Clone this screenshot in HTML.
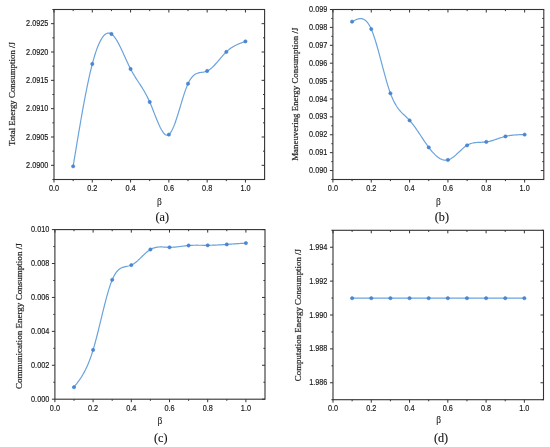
<!DOCTYPE html>
<html><head><meta charset="utf-8"><title>Energy consumption vs beta</title>
<style>html,body{margin:0;padding:0;background:#fff;width:550px;height:447px;overflow:hidden}svg{display:block;filter:blur(0.3px)}</style>
</head><body>
<svg width="550" height="447" viewBox="0 0 550 447"><g stroke="#333" stroke-width="1"><line x1="54.00" y1="179.50" x2="54.00" y2="182.50"/><line x1="54.00" y1="9.50" x2="54.00" y2="12.50"/><line x1="73.15" y1="179.50" x2="73.15" y2="181.10"/><line x1="73.15" y1="9.50" x2="73.15" y2="11.10"/><line x1="92.29" y1="179.50" x2="92.29" y2="182.50"/><line x1="92.29" y1="9.50" x2="92.29" y2="12.50"/><line x1="111.44" y1="179.50" x2="111.44" y2="181.10"/><line x1="111.44" y1="9.50" x2="111.44" y2="11.10"/><line x1="130.58" y1="179.50" x2="130.58" y2="182.50"/><line x1="130.58" y1="9.50" x2="130.58" y2="12.50"/><line x1="149.73" y1="179.50" x2="149.73" y2="181.10"/><line x1="149.73" y1="9.50" x2="149.73" y2="11.10"/><line x1="168.87" y1="179.50" x2="168.87" y2="182.50"/><line x1="168.87" y1="9.50" x2="168.87" y2="12.50"/><line x1="188.02" y1="179.50" x2="188.02" y2="181.10"/><line x1="188.02" y1="9.50" x2="188.02" y2="11.10"/><line x1="207.16" y1="179.50" x2="207.16" y2="182.50"/><line x1="207.16" y1="9.50" x2="207.16" y2="12.50"/><line x1="226.31" y1="179.50" x2="226.31" y2="181.10"/><line x1="226.31" y1="9.50" x2="226.31" y2="11.10"/><line x1="245.45" y1="179.50" x2="245.45" y2="182.50"/><line x1="245.45" y1="9.50" x2="245.45" y2="12.50"/><line x1="54.00" y1="179.50" x2="52.40" y2="179.50"/><line x1="264.60" y1="179.50" x2="263.00" y2="179.50"/><line x1="54.00" y1="165.33" x2="51.00" y2="165.33"/><line x1="264.60" y1="165.33" x2="261.60" y2="165.33"/><line x1="54.00" y1="151.17" x2="52.40" y2="151.17"/><line x1="264.60" y1="151.17" x2="263.00" y2="151.17"/><line x1="54.00" y1="137.00" x2="51.00" y2="137.00"/><line x1="264.60" y1="137.00" x2="261.60" y2="137.00"/><line x1="54.00" y1="122.83" x2="52.40" y2="122.83"/><line x1="264.60" y1="122.83" x2="263.00" y2="122.83"/><line x1="54.00" y1="108.67" x2="51.00" y2="108.67"/><line x1="264.60" y1="108.67" x2="261.60" y2="108.67"/><line x1="54.00" y1="94.50" x2="52.40" y2="94.50"/><line x1="264.60" y1="94.50" x2="263.00" y2="94.50"/><line x1="54.00" y1="80.33" x2="51.00" y2="80.33"/><line x1="264.60" y1="80.33" x2="261.60" y2="80.33"/><line x1="54.00" y1="66.17" x2="52.40" y2="66.17"/><line x1="264.60" y1="66.17" x2="263.00" y2="66.17"/><line x1="54.00" y1="52.00" x2="51.00" y2="52.00"/><line x1="264.60" y1="52.00" x2="261.60" y2="52.00"/><line x1="54.00" y1="37.83" x2="52.40" y2="37.83"/><line x1="264.60" y1="37.83" x2="263.00" y2="37.83"/><line x1="54.00" y1="23.67" x2="51.00" y2="23.67"/><line x1="264.60" y1="23.67" x2="261.60" y2="23.67"/><line x1="54.00" y1="9.50" x2="52.40" y2="9.50"/><line x1="264.60" y1="9.50" x2="263.00" y2="9.50"/></g>
<rect x="54.00" y="9.50" width="210.60" height="170.00" fill="none" stroke="#333" stroke-width="1.1"/>
<g font-family="Liberation Sans, Arial, sans-serif" font-size="8.5" fill="#1a1a1a" stroke="#1a1a1a" stroke-width="0.18"><text transform="translate(54.00,190.80) scale(0.86,1)" text-anchor="middle">0.0</text><text transform="translate(92.29,190.80) scale(0.86,1)" text-anchor="middle">0.2</text><text transform="translate(130.58,190.80) scale(0.86,1)" text-anchor="middle">0.4</text><text transform="translate(168.87,190.80) scale(0.86,1)" text-anchor="middle">0.6</text><text transform="translate(207.16,190.80) scale(0.86,1)" text-anchor="middle">0.8</text><text transform="translate(245.45,190.80) scale(0.86,1)" text-anchor="middle">1.0</text><text transform="translate(48.40,167.93) scale(0.86,1)" text-anchor="end">2.0900</text><text transform="translate(48.40,139.60) scale(0.86,1)" text-anchor="end">2.0905</text><text transform="translate(48.40,111.27) scale(0.86,1)" text-anchor="end">2.0910</text><text transform="translate(48.40,82.93) scale(0.86,1)" text-anchor="end">2.0915</text><text transform="translate(48.40,54.60) scale(0.86,1)" text-anchor="end">2.0920</text><text transform="translate(48.40,26.27) scale(0.86,1)" text-anchor="end">2.0925</text></g>
<path d="M73.15,166.30 L74.10,160.46 L75.06,154.63 L76.02,148.82 L76.97,143.05 L77.93,137.32 L78.89,131.64 L79.85,126.03 L80.80,120.49 L81.76,115.05 L82.72,109.70 L83.68,104.46 L84.63,99.34 L85.59,94.35 L86.55,89.50 L87.50,84.80 L88.46,80.27 L89.42,75.92 L90.38,71.74 L91.33,67.77 L92.29,64.00 L93.25,60.45 L94.21,57.11 L95.16,54.00 L96.12,51.10 L97.08,48.41 L98.03,45.95 L98.99,43.70 L99.95,41.66 L100.91,39.85 L101.86,38.24 L102.82,36.86 L103.78,35.68 L104.74,34.73 L105.69,33.98 L106.65,33.45 L107.61,33.14 L108.56,33.03 L109.52,33.14 L110.48,33.46 L111.44,34.00 L112.39,34.74 L113.35,35.69 L114.31,36.81 L115.27,38.10 L116.22,39.54 L117.18,41.12 L118.14,42.82 L119.09,44.62 L120.05,46.52 L121.01,48.49 L121.97,50.52 L122.92,52.59 L123.88,54.70 L124.84,56.82 L125.80,58.94 L126.75,61.04 L127.71,63.12 L128.67,65.14 L129.62,67.11 L130.58,69.00 L131.54,70.80 L132.50,72.52 L133.45,74.17 L134.41,75.77 L135.37,77.31 L136.33,78.81 L137.28,80.29 L138.24,81.76 L139.20,83.21 L140.15,84.68 L141.11,86.16 L142.07,87.66 L143.03,89.21 L143.98,90.80 L144.94,92.46 L145.90,94.18 L146.86,95.99 L147.81,97.89 L148.77,99.89 L149.73,102.00 L150.68,104.23 L151.64,106.56 L152.60,108.96 L153.56,111.41 L154.51,113.87 L155.47,116.32 L156.43,118.74 L157.39,121.09 L158.34,123.35 L159.30,125.50 L160.26,127.50 L161.21,129.33 L162.17,130.96 L163.13,132.37 L164.09,133.53 L165.04,134.41 L166.00,134.98 L166.96,135.22 L167.92,135.10 L168.87,134.60 L169.83,133.69 L170.79,132.41 L171.74,130.78 L172.70,128.84 L173.66,126.63 L174.62,124.18 L175.57,121.52 L176.53,118.68 L177.49,115.71 L178.45,112.64 L179.40,109.49 L180.36,106.31 L181.32,103.13 L182.27,99.98 L183.23,96.90 L184.19,93.92 L185.15,91.07 L186.10,88.40 L187.06,85.93 L188.02,83.70 L188.98,81.73 L189.93,80.02 L190.89,78.55 L191.85,77.29 L192.80,76.22 L193.76,75.34 L194.72,74.61 L195.68,74.03 L196.63,73.56 L197.59,73.20 L198.55,72.92 L199.51,72.70 L200.46,72.53 L201.42,72.39 L202.38,72.25 L203.33,72.10 L204.29,71.92 L205.25,71.69 L206.21,71.39 L207.16,71.00 L208.12,70.51 L209.08,69.92 L210.04,69.24 L210.99,68.48 L211.95,67.64 L212.91,66.74 L213.86,65.79 L214.82,64.78 L215.78,63.73 L216.74,62.65 L217.69,61.55 L218.65,60.43 L219.61,59.30 L220.57,58.17 L221.52,57.06 L222.48,55.96 L223.44,54.88 L224.39,53.84 L225.35,52.85 L226.31,51.90 L227.32,50.97 L228.32,50.09 L229.33,49.28 L230.34,48.52 L231.35,47.81 L232.36,47.15 L233.36,46.54 L234.37,45.96 L235.38,45.43 L236.39,44.93 L237.39,44.46 L238.40,44.02 L239.41,43.60 L240.42,43.20 L241.42,42.82 L242.43,42.45 L243.44,42.10 L244.45,41.75 L245.45,41.40" fill="none" stroke="#6aa3dc" stroke-width="1.2"/>
<circle cx="73.15" cy="166.30" r="1.65" fill="#4a88d4" stroke="#3b78c6" stroke-width="0.5"/>
<circle cx="92.29" cy="64.00" r="1.65" fill="#4a88d4" stroke="#3b78c6" stroke-width="0.5"/>
<circle cx="111.44" cy="34.00" r="1.65" fill="#4a88d4" stroke="#3b78c6" stroke-width="0.5"/>
<circle cx="130.58" cy="69.00" r="1.65" fill="#4a88d4" stroke="#3b78c6" stroke-width="0.5"/>
<circle cx="149.73" cy="102.00" r="1.65" fill="#4a88d4" stroke="#3b78c6" stroke-width="0.5"/>
<circle cx="168.87" cy="134.60" r="1.65" fill="#4a88d4" stroke="#3b78c6" stroke-width="0.5"/>
<circle cx="188.02" cy="83.70" r="1.65" fill="#4a88d4" stroke="#3b78c6" stroke-width="0.5"/>
<circle cx="207.16" cy="71.00" r="1.65" fill="#4a88d4" stroke="#3b78c6" stroke-width="0.5"/>
<circle cx="226.31" cy="51.90" r="1.65" fill="#4a88d4" stroke="#3b78c6" stroke-width="0.5"/>
<circle cx="245.45" cy="41.40" r="1.65" fill="#4a88d4" stroke="#3b78c6" stroke-width="0.5"/>
<text transform="translate(14.8,94.0) rotate(-90)" text-anchor="middle" font-family="Liberation Serif, Times New Roman, serif" font-size="8.9" fill="#222" stroke="#222" stroke-width="0.2">Total Energy Consumption /J</text>
<text x="159.5" y="204.5" text-anchor="middle" font-family="Liberation Serif, Times New Roman, serif" font-size="9.4" fill="#222" stroke="#222" stroke-width="0.1">&#946;</text>
<text x="162.3" y="220.5" text-anchor="middle" font-family="Liberation Serif, Times New Roman, serif" font-size="12.2" fill="#111" stroke="#111" stroke-width="0.12">(a)</text>
<g stroke="#333" stroke-width="1"><line x1="332.90" y1="179.50" x2="332.90" y2="182.50"/><line x1="332.90" y1="9.50" x2="332.90" y2="12.50"/><line x1="352.07" y1="179.50" x2="352.07" y2="181.10"/><line x1="352.07" y1="9.50" x2="352.07" y2="11.10"/><line x1="371.25" y1="179.50" x2="371.25" y2="182.50"/><line x1="371.25" y1="9.50" x2="371.25" y2="12.50"/><line x1="390.42" y1="179.50" x2="390.42" y2="181.10"/><line x1="390.42" y1="9.50" x2="390.42" y2="11.10"/><line x1="409.59" y1="179.50" x2="409.59" y2="182.50"/><line x1="409.59" y1="9.50" x2="409.59" y2="12.50"/><line x1="428.76" y1="179.50" x2="428.76" y2="181.10"/><line x1="428.76" y1="9.50" x2="428.76" y2="11.10"/><line x1="447.94" y1="179.50" x2="447.94" y2="182.50"/><line x1="447.94" y1="9.50" x2="447.94" y2="12.50"/><line x1="467.11" y1="179.50" x2="467.11" y2="181.10"/><line x1="467.11" y1="9.50" x2="467.11" y2="11.10"/><line x1="486.28" y1="179.50" x2="486.28" y2="182.50"/><line x1="486.28" y1="9.50" x2="486.28" y2="12.50"/><line x1="505.45" y1="179.50" x2="505.45" y2="181.10"/><line x1="505.45" y1="9.50" x2="505.45" y2="11.10"/><line x1="524.63" y1="179.50" x2="524.63" y2="182.50"/><line x1="524.63" y1="9.50" x2="524.63" y2="12.50"/><line x1="332.90" y1="179.50" x2="331.30" y2="179.50"/><line x1="543.80" y1="179.50" x2="542.20" y2="179.50"/><line x1="332.90" y1="170.55" x2="329.90" y2="170.55"/><line x1="543.80" y1="170.55" x2="540.80" y2="170.55"/><line x1="332.90" y1="161.61" x2="331.30" y2="161.61"/><line x1="543.80" y1="161.61" x2="542.20" y2="161.61"/><line x1="332.90" y1="152.66" x2="329.90" y2="152.66"/><line x1="543.80" y1="152.66" x2="540.80" y2="152.66"/><line x1="332.90" y1="143.71" x2="331.30" y2="143.71"/><line x1="543.80" y1="143.71" x2="542.20" y2="143.71"/><line x1="332.90" y1="134.76" x2="329.90" y2="134.76"/><line x1="543.80" y1="134.76" x2="540.80" y2="134.76"/><line x1="332.90" y1="125.82" x2="331.30" y2="125.82"/><line x1="543.80" y1="125.82" x2="542.20" y2="125.82"/><line x1="332.90" y1="116.87" x2="329.90" y2="116.87"/><line x1="543.80" y1="116.87" x2="540.80" y2="116.87"/><line x1="332.90" y1="107.92" x2="331.30" y2="107.92"/><line x1="543.80" y1="107.92" x2="542.20" y2="107.92"/><line x1="332.90" y1="98.97" x2="329.90" y2="98.97"/><line x1="543.80" y1="98.97" x2="540.80" y2="98.97"/><line x1="332.90" y1="90.03" x2="331.30" y2="90.03"/><line x1="543.80" y1="90.03" x2="542.20" y2="90.03"/><line x1="332.90" y1="81.08" x2="329.90" y2="81.08"/><line x1="543.80" y1="81.08" x2="540.80" y2="81.08"/><line x1="332.90" y1="72.13" x2="331.30" y2="72.13"/><line x1="543.80" y1="72.13" x2="542.20" y2="72.13"/><line x1="332.90" y1="63.18" x2="329.90" y2="63.18"/><line x1="543.80" y1="63.18" x2="540.80" y2="63.18"/><line x1="332.90" y1="54.24" x2="331.30" y2="54.24"/><line x1="543.80" y1="54.24" x2="542.20" y2="54.24"/><line x1="332.90" y1="45.29" x2="329.90" y2="45.29"/><line x1="543.80" y1="45.29" x2="540.80" y2="45.29"/><line x1="332.90" y1="36.34" x2="331.30" y2="36.34"/><line x1="543.80" y1="36.34" x2="542.20" y2="36.34"/><line x1="332.90" y1="27.39" x2="329.90" y2="27.39"/><line x1="543.80" y1="27.39" x2="540.80" y2="27.39"/><line x1="332.90" y1="18.45" x2="331.30" y2="18.45"/><line x1="543.80" y1="18.45" x2="542.20" y2="18.45"/><line x1="332.90" y1="9.50" x2="329.90" y2="9.50"/><line x1="543.80" y1="9.50" x2="540.80" y2="9.50"/></g>
<rect x="332.90" y="9.50" width="210.90" height="170.00" fill="none" stroke="#333" stroke-width="1.1"/>
<g font-family="Liberation Sans, Arial, sans-serif" font-size="8.5" fill="#1a1a1a" stroke="#1a1a1a" stroke-width="0.18"><text transform="translate(332.90,190.80) scale(0.86,1)" text-anchor="middle">0.0</text><text transform="translate(371.25,190.80) scale(0.86,1)" text-anchor="middle">0.2</text><text transform="translate(409.59,190.80) scale(0.86,1)" text-anchor="middle">0.4</text><text transform="translate(447.94,190.80) scale(0.86,1)" text-anchor="middle">0.6</text><text transform="translate(486.28,190.80) scale(0.86,1)" text-anchor="middle">0.8</text><text transform="translate(524.63,190.80) scale(0.86,1)" text-anchor="middle">1.0</text><text transform="translate(327.30,173.15) scale(0.86,1)" text-anchor="end">0.090</text><text transform="translate(327.30,155.26) scale(0.86,1)" text-anchor="end">0.091</text><text transform="translate(327.30,137.36) scale(0.86,1)" text-anchor="end">0.092</text><text transform="translate(327.30,119.47) scale(0.86,1)" text-anchor="end">0.093</text><text transform="translate(327.30,101.57) scale(0.86,1)" text-anchor="end">0.094</text><text transform="translate(327.30,83.68) scale(0.86,1)" text-anchor="end">0.095</text><text transform="translate(327.30,65.78) scale(0.86,1)" text-anchor="end">0.096</text><text transform="translate(327.30,47.89) scale(0.86,1)" text-anchor="end">0.097</text><text transform="translate(327.30,29.99) scale(0.86,1)" text-anchor="end">0.098</text><text transform="translate(327.30,12.10) scale(0.86,1)" text-anchor="end">0.099</text></g>
<path d="M352.07,21.70 L353.03,21.18 L353.99,20.67 L354.95,20.18 L355.91,19.74 L356.87,19.35 L357.82,19.03 L358.78,18.79 L359.74,18.64 L360.70,18.60 L361.66,18.68 L362.62,18.90 L363.58,19.26 L364.54,19.79 L365.49,20.48 L366.45,21.37 L367.41,22.46 L368.37,23.76 L369.33,25.30 L370.29,27.07 L371.25,29.10 L372.20,31.39 L373.16,33.93 L374.12,36.68 L375.08,39.63 L376.04,42.75 L377.00,46.02 L377.96,49.41 L378.91,52.89 L379.87,56.45 L380.83,60.05 L381.79,63.68 L382.75,67.31 L383.71,70.90 L384.67,74.45 L385.62,77.93 L386.58,81.30 L387.54,84.55 L388.50,87.65 L389.46,90.57 L390.42,93.30 L391.38,95.81 L392.34,98.11 L393.29,100.22 L394.25,102.15 L395.21,103.92 L396.17,105.53 L397.13,107.01 L398.09,108.36 L399.05,109.61 L400.00,110.77 L400.96,111.84 L401.92,112.86 L402.88,113.82 L403.84,114.75 L404.80,115.66 L405.76,116.56 L406.71,117.47 L407.67,118.41 L408.63,119.38 L409.59,120.40 L410.55,121.49 L411.51,122.63 L412.47,123.83 L413.43,125.08 L414.38,126.38 L415.34,127.71 L416.30,129.08 L417.26,130.48 L418.22,131.89 L419.18,133.33 L420.14,134.78 L421.09,136.23 L422.05,137.68 L423.01,139.13 L423.97,140.56 L424.93,141.99 L425.89,143.38 L426.85,144.76 L427.81,146.10 L428.76,147.40 L429.72,148.66 L430.68,149.87 L431.64,151.03 L432.60,152.14 L433.56,153.20 L434.52,154.19 L435.47,155.12 L436.43,155.98 L437.39,156.77 L438.35,157.49 L439.31,158.13 L440.27,158.69 L441.23,159.17 L442.18,159.56 L443.14,159.86 L444.10,160.07 L445.06,160.18 L446.02,160.19 L446.98,160.10 L447.94,159.90 L448.89,159.59 L449.85,159.18 L450.81,158.68 L451.77,158.10 L452.73,157.45 L453.69,156.73 L454.65,155.96 L455.61,155.14 L456.56,154.29 L457.52,153.41 L458.48,152.52 L459.44,151.62 L460.40,150.72 L461.36,149.84 L462.32,148.97 L463.27,148.14 L464.23,147.34 L465.19,146.60 L466.15,145.92 L467.11,145.30 L468.07,144.76 L469.03,144.29 L469.99,143.89 L470.94,143.55 L471.90,143.26 L472.86,143.03 L473.82,142.84 L474.78,142.68 L475.74,142.57 L476.70,142.48 L477.65,142.41 L478.61,142.36 L479.57,142.32 L480.53,142.29 L481.49,142.25 L482.45,142.22 L483.41,142.17 L484.36,142.10 L485.32,142.01 L486.28,141.90 L487.24,141.75 L488.20,141.58 L489.16,141.38 L490.12,141.15 L491.07,140.90 L492.03,140.63 L492.99,140.34 L493.95,140.05 L494.91,139.74 L495.87,139.42 L496.83,139.10 L497.79,138.77 L498.74,138.44 L499.70,138.12 L500.66,137.80 L501.62,137.50 L502.58,137.20 L503.54,136.91 L504.50,136.65 L505.45,136.40 L506.46,136.16 L507.47,135.95 L508.48,135.76 L509.49,135.58 L510.50,135.43 L511.51,135.30 L512.52,135.18 L513.53,135.08 L514.54,134.99 L515.55,134.91 L516.55,134.85 L517.56,134.79 L518.57,134.75 L519.58,134.71 L520.59,134.68 L521.60,134.66 L522.61,134.64 L523.62,134.62 L524.63,134.60" fill="none" stroke="#6aa3dc" stroke-width="1.2"/>
<circle cx="352.07" cy="21.70" r="1.65" fill="#4a88d4" stroke="#3b78c6" stroke-width="0.5"/>
<circle cx="371.25" cy="29.10" r="1.65" fill="#4a88d4" stroke="#3b78c6" stroke-width="0.5"/>
<circle cx="390.42" cy="93.30" r="1.65" fill="#4a88d4" stroke="#3b78c6" stroke-width="0.5"/>
<circle cx="409.59" cy="120.40" r="1.65" fill="#4a88d4" stroke="#3b78c6" stroke-width="0.5"/>
<circle cx="428.76" cy="147.40" r="1.65" fill="#4a88d4" stroke="#3b78c6" stroke-width="0.5"/>
<circle cx="447.94" cy="159.90" r="1.65" fill="#4a88d4" stroke="#3b78c6" stroke-width="0.5"/>
<circle cx="467.11" cy="145.30" r="1.65" fill="#4a88d4" stroke="#3b78c6" stroke-width="0.5"/>
<circle cx="486.28" cy="141.90" r="1.65" fill="#4a88d4" stroke="#3b78c6" stroke-width="0.5"/>
<circle cx="505.45" cy="136.40" r="1.65" fill="#4a88d4" stroke="#3b78c6" stroke-width="0.5"/>
<circle cx="524.63" cy="134.60" r="1.65" fill="#4a88d4" stroke="#3b78c6" stroke-width="0.5"/>
<text transform="translate(298.1,94.2) rotate(-90)" text-anchor="middle" font-family="Liberation Serif, Times New Roman, serif" font-size="8.9" fill="#222" stroke="#222" stroke-width="0.2">Maneuvering Energy Consumption /J</text>
<text x="438.5" y="204.5" text-anchor="middle" font-family="Liberation Serif, Times New Roman, serif" font-size="9.4" fill="#222" stroke="#222" stroke-width="0.1">&#946;</text>
<text x="441.9" y="220.6" text-anchor="middle" font-family="Liberation Serif, Times New Roman, serif" font-size="12.2" fill="#111" stroke="#111" stroke-width="0.12">(b)</text>
<g stroke="#333" stroke-width="1"><line x1="54.90" y1="399.20" x2="54.90" y2="402.20"/><line x1="54.90" y1="229.60" x2="54.90" y2="232.60"/><line x1="74.00" y1="399.20" x2="74.00" y2="400.80"/><line x1="74.00" y1="229.60" x2="74.00" y2="231.20"/><line x1="93.10" y1="399.20" x2="93.10" y2="402.20"/><line x1="93.10" y1="229.60" x2="93.10" y2="232.60"/><line x1="112.20" y1="399.20" x2="112.20" y2="400.80"/><line x1="112.20" y1="229.60" x2="112.20" y2="231.20"/><line x1="131.30" y1="399.20" x2="131.30" y2="402.20"/><line x1="131.30" y1="229.60" x2="131.30" y2="232.60"/><line x1="150.40" y1="399.20" x2="150.40" y2="400.80"/><line x1="150.40" y1="229.60" x2="150.40" y2="231.20"/><line x1="169.50" y1="399.20" x2="169.50" y2="402.20"/><line x1="169.50" y1="229.60" x2="169.50" y2="232.60"/><line x1="188.60" y1="399.20" x2="188.60" y2="400.80"/><line x1="188.60" y1="229.60" x2="188.60" y2="231.20"/><line x1="207.70" y1="399.20" x2="207.70" y2="402.20"/><line x1="207.70" y1="229.60" x2="207.70" y2="232.60"/><line x1="226.80" y1="399.20" x2="226.80" y2="400.80"/><line x1="226.80" y1="229.60" x2="226.80" y2="231.20"/><line x1="245.90" y1="399.20" x2="245.90" y2="402.20"/><line x1="245.90" y1="229.60" x2="245.90" y2="232.60"/><line x1="54.90" y1="399.20" x2="51.90" y2="399.20"/><line x1="265.00" y1="399.20" x2="262.00" y2="399.20"/><line x1="54.90" y1="382.24" x2="53.30" y2="382.24"/><line x1="265.00" y1="382.24" x2="263.40" y2="382.24"/><line x1="54.90" y1="365.28" x2="51.90" y2="365.28"/><line x1="265.00" y1="365.28" x2="262.00" y2="365.28"/><line x1="54.90" y1="348.32" x2="53.30" y2="348.32"/><line x1="265.00" y1="348.32" x2="263.40" y2="348.32"/><line x1="54.90" y1="331.36" x2="51.90" y2="331.36"/><line x1="265.00" y1="331.36" x2="262.00" y2="331.36"/><line x1="54.90" y1="314.40" x2="53.30" y2="314.40"/><line x1="265.00" y1="314.40" x2="263.40" y2="314.40"/><line x1="54.90" y1="297.44" x2="51.90" y2="297.44"/><line x1="265.00" y1="297.44" x2="262.00" y2="297.44"/><line x1="54.90" y1="280.48" x2="53.30" y2="280.48"/><line x1="265.00" y1="280.48" x2="263.40" y2="280.48"/><line x1="54.90" y1="263.52" x2="51.90" y2="263.52"/><line x1="265.00" y1="263.52" x2="262.00" y2="263.52"/><line x1="54.90" y1="246.56" x2="53.30" y2="246.56"/><line x1="265.00" y1="246.56" x2="263.40" y2="246.56"/><line x1="54.90" y1="229.60" x2="51.90" y2="229.60"/><line x1="265.00" y1="229.60" x2="262.00" y2="229.60"/></g>
<rect x="54.90" y="229.60" width="210.10" height="169.60" fill="none" stroke="#333" stroke-width="1.1"/>
<g font-family="Liberation Sans, Arial, sans-serif" font-size="8.5" fill="#1a1a1a" stroke="#1a1a1a" stroke-width="0.18"><text transform="translate(54.90,410.50) scale(0.86,1)" text-anchor="middle">0.0</text><text transform="translate(93.10,410.50) scale(0.86,1)" text-anchor="middle">0.2</text><text transform="translate(131.30,410.50) scale(0.86,1)" text-anchor="middle">0.4</text><text transform="translate(169.50,410.50) scale(0.86,1)" text-anchor="middle">0.6</text><text transform="translate(207.70,410.50) scale(0.86,1)" text-anchor="middle">0.8</text><text transform="translate(245.90,410.50) scale(0.86,1)" text-anchor="middle">1.0</text><text transform="translate(49.30,401.80) scale(0.86,1)" text-anchor="end">0.000</text><text transform="translate(49.30,367.88) scale(0.86,1)" text-anchor="end">0.002</text><text transform="translate(49.30,333.96) scale(0.86,1)" text-anchor="end">0.004</text><text transform="translate(49.30,300.04) scale(0.86,1)" text-anchor="end">0.006</text><text transform="translate(49.30,266.12) scale(0.86,1)" text-anchor="end">0.008</text><text transform="translate(49.30,232.20) scale(0.86,1)" text-anchor="end">0.010</text></g>
<path d="M74.00,387.20 L74.95,385.98 L75.91,384.74 L76.86,383.49 L77.82,382.21 L78.78,380.89 L79.73,379.52 L80.69,378.09 L81.64,376.60 L82.59,375.03 L83.55,373.37 L84.50,371.62 L85.46,369.76 L86.41,367.78 L87.37,365.68 L88.32,363.44 L89.28,361.06 L90.23,358.53 L91.19,355.83 L92.14,352.96 L93.10,349.90 L94.05,346.66 L95.01,343.25 L95.96,339.69 L96.92,336.01 L97.88,332.23 L98.83,328.38 L99.78,324.47 L100.74,320.54 L101.69,316.61 L102.65,312.69 L103.61,308.82 L104.56,305.01 L105.52,301.30 L106.47,297.69 L107.42,294.23 L108.38,290.93 L109.34,287.81 L110.29,284.90 L111.25,282.22 L112.20,279.80 L113.16,277.65 L114.11,275.76 L115.06,274.11 L116.02,272.69 L116.98,271.47 L117.93,270.44 L118.89,269.57 L119.84,268.85 L120.80,268.27 L121.75,267.79 L122.71,267.41 L123.66,267.10 L124.62,266.85 L125.57,266.64 L126.53,266.44 L127.48,266.25 L128.44,266.04 L129.39,265.79 L130.34,265.48 L131.30,265.10 L132.26,264.63 L133.21,264.08 L134.17,263.45 L135.12,262.75 L136.08,262.00 L137.03,261.20 L137.99,260.35 L138.94,259.47 L139.90,258.57 L140.85,257.65 L141.81,256.73 L142.76,255.80 L143.72,254.89 L144.67,253.99 L145.62,253.13 L146.58,252.30 L147.53,251.51 L148.49,250.77 L149.44,250.10 L150.40,249.50 L151.36,248.97 L152.31,248.52 L153.27,248.14 L154.22,247.82 L155.18,247.56 L156.13,247.35 L157.09,247.20 L158.04,247.08 L159.00,247.01 L159.95,246.96 L160.91,246.95 L161.86,246.96 L162.81,246.99 L163.77,247.03 L164.72,247.09 L165.68,247.14 L166.63,247.20 L167.59,247.24 L168.55,247.28 L169.50,247.30 L170.46,247.30 L171.41,247.28 L172.37,247.24 L173.32,247.19 L174.28,247.12 L175.23,247.04 L176.19,246.94 L177.14,246.84 L178.09,246.73 L179.05,246.62 L180.00,246.49 L180.96,246.37 L181.91,246.25 L182.87,246.12 L183.82,246.00 L184.78,245.89 L185.73,245.78 L186.69,245.68 L187.64,245.58 L188.60,245.50 L189.56,245.43 L190.51,245.37 L191.47,245.33 L192.42,245.29 L193.38,245.26 L194.33,245.24 L195.28,245.23 L196.24,245.22 L197.19,245.22 L198.15,245.23 L199.11,245.23 L200.06,245.24 L201.02,245.25 L201.97,245.27 L202.93,245.28 L203.88,245.29 L204.84,245.30 L205.79,245.30 L206.75,245.30 L207.70,245.30 L208.66,245.29 L209.61,245.28 L210.56,245.26 L211.52,245.23 L212.48,245.20 L213.43,245.17 L214.38,245.13 L215.34,245.09 L216.30,245.04 L217.25,245.00 L218.20,244.95 L219.16,244.89 L220.12,244.84 L221.07,244.78 L222.02,244.72 L222.98,244.66 L223.94,244.59 L224.89,244.53 L225.84,244.46 L226.80,244.40 L227.81,244.33 L228.81,244.26 L229.82,244.20 L230.82,244.13 L231.83,244.06 L232.83,243.99 L233.84,243.92 L234.84,243.85 L235.85,243.79 L236.85,243.72 L237.86,243.65 L238.86,243.58 L239.87,243.51 L240.87,243.44 L241.88,243.37 L242.88,243.31 L243.89,243.24 L244.89,243.17 L245.90,243.10" fill="none" stroke="#6aa3dc" stroke-width="1.2"/>
<circle cx="74.00" cy="387.20" r="1.65" fill="#4a88d4" stroke="#3b78c6" stroke-width="0.5"/>
<circle cx="93.10" cy="349.90" r="1.65" fill="#4a88d4" stroke="#3b78c6" stroke-width="0.5"/>
<circle cx="112.20" cy="279.80" r="1.65" fill="#4a88d4" stroke="#3b78c6" stroke-width="0.5"/>
<circle cx="131.30" cy="265.10" r="1.65" fill="#4a88d4" stroke="#3b78c6" stroke-width="0.5"/>
<circle cx="150.40" cy="249.50" r="1.65" fill="#4a88d4" stroke="#3b78c6" stroke-width="0.5"/>
<circle cx="169.50" cy="247.30" r="1.65" fill="#4a88d4" stroke="#3b78c6" stroke-width="0.5"/>
<circle cx="188.60" cy="245.50" r="1.65" fill="#4a88d4" stroke="#3b78c6" stroke-width="0.5"/>
<circle cx="207.70" cy="245.30" r="1.65" fill="#4a88d4" stroke="#3b78c6" stroke-width="0.5"/>
<circle cx="226.80" cy="244.40" r="1.65" fill="#4a88d4" stroke="#3b78c6" stroke-width="0.5"/>
<circle cx="245.90" cy="243.10" r="1.65" fill="#4a88d4" stroke="#3b78c6" stroke-width="0.5"/>
<text transform="translate(21.9,316.2) rotate(-90)" text-anchor="middle" font-family="Liberation Serif, Times New Roman, serif" font-size="9.05" fill="#222" stroke="#222" stroke-width="0.2">Communication Energy Consumption /J</text>
<text x="159.8" y="424" text-anchor="middle" font-family="Liberation Serif, Times New Roman, serif" font-size="9.4" fill="#222" stroke="#222" stroke-width="0.1">&#946;</text>
<text x="160.8" y="441.7" text-anchor="middle" font-family="Liberation Serif, Times New Roman, serif" font-size="12.2" fill="#111" stroke="#111" stroke-width="0.12">(c)</text>
<g stroke="#333" stroke-width="1"><line x1="333.00" y1="399.70" x2="333.00" y2="402.70"/><line x1="333.00" y1="230.30" x2="333.00" y2="233.30"/><line x1="352.14" y1="399.70" x2="352.14" y2="401.30"/><line x1="352.14" y1="230.30" x2="352.14" y2="231.90"/><line x1="371.27" y1="399.70" x2="371.27" y2="402.70"/><line x1="371.27" y1="230.30" x2="371.27" y2="233.30"/><line x1="390.41" y1="399.70" x2="390.41" y2="401.30"/><line x1="390.41" y1="230.30" x2="390.41" y2="231.90"/><line x1="409.55" y1="399.70" x2="409.55" y2="402.70"/><line x1="409.55" y1="230.30" x2="409.55" y2="233.30"/><line x1="428.68" y1="399.70" x2="428.68" y2="401.30"/><line x1="428.68" y1="230.30" x2="428.68" y2="231.90"/><line x1="447.82" y1="399.70" x2="447.82" y2="402.70"/><line x1="447.82" y1="230.30" x2="447.82" y2="233.30"/><line x1="466.95" y1="399.70" x2="466.95" y2="401.30"/><line x1="466.95" y1="230.30" x2="466.95" y2="231.90"/><line x1="486.09" y1="399.70" x2="486.09" y2="402.70"/><line x1="486.09" y1="230.30" x2="486.09" y2="233.30"/><line x1="505.23" y1="399.70" x2="505.23" y2="401.30"/><line x1="505.23" y1="230.30" x2="505.23" y2="231.90"/><line x1="524.36" y1="399.70" x2="524.36" y2="402.70"/><line x1="524.36" y1="230.30" x2="524.36" y2="233.30"/><line x1="333.00" y1="399.70" x2="331.40" y2="399.70"/><line x1="543.50" y1="399.70" x2="541.90" y2="399.70"/><line x1="333.00" y1="382.76" x2="330.00" y2="382.76"/><line x1="543.50" y1="382.76" x2="540.50" y2="382.76"/><line x1="333.00" y1="365.82" x2="331.40" y2="365.82"/><line x1="543.50" y1="365.82" x2="541.90" y2="365.82"/><line x1="333.00" y1="348.88" x2="330.00" y2="348.88"/><line x1="543.50" y1="348.88" x2="540.50" y2="348.88"/><line x1="333.00" y1="331.94" x2="331.40" y2="331.94"/><line x1="543.50" y1="331.94" x2="541.90" y2="331.94"/><line x1="333.00" y1="315.00" x2="330.00" y2="315.00"/><line x1="543.50" y1="315.00" x2="540.50" y2="315.00"/><line x1="333.00" y1="298.06" x2="331.40" y2="298.06"/><line x1="543.50" y1="298.06" x2="541.90" y2="298.06"/><line x1="333.00" y1="281.12" x2="330.00" y2="281.12"/><line x1="543.50" y1="281.12" x2="540.50" y2="281.12"/><line x1="333.00" y1="264.18" x2="331.40" y2="264.18"/><line x1="543.50" y1="264.18" x2="541.90" y2="264.18"/><line x1="333.00" y1="247.24" x2="330.00" y2="247.24"/><line x1="543.50" y1="247.24" x2="540.50" y2="247.24"/><line x1="333.00" y1="230.30" x2="331.40" y2="230.30"/><line x1="543.50" y1="230.30" x2="541.90" y2="230.30"/></g>
<rect x="333.00" y="230.30" width="210.50" height="169.40" fill="none" stroke="#333" stroke-width="1.1"/>
<g font-family="Liberation Sans, Arial, sans-serif" font-size="8.5" fill="#1a1a1a" stroke="#1a1a1a" stroke-width="0.18"><text transform="translate(333.00,411.00) scale(0.86,1)" text-anchor="middle">0.0</text><text transform="translate(371.27,411.00) scale(0.86,1)" text-anchor="middle">0.2</text><text transform="translate(409.55,411.00) scale(0.86,1)" text-anchor="middle">0.4</text><text transform="translate(447.82,411.00) scale(0.86,1)" text-anchor="middle">0.6</text><text transform="translate(486.09,411.00) scale(0.86,1)" text-anchor="middle">0.8</text><text transform="translate(524.36,411.00) scale(0.86,1)" text-anchor="middle">1.0</text><text transform="translate(327.40,385.36) scale(0.86,1)" text-anchor="end">1.986</text><text transform="translate(327.40,351.48) scale(0.86,1)" text-anchor="end">1.988</text><text transform="translate(327.40,317.60) scale(0.86,1)" text-anchor="end">1.990</text><text transform="translate(327.40,283.72) scale(0.86,1)" text-anchor="end">1.992</text><text transform="translate(327.40,249.84) scale(0.86,1)" text-anchor="end">1.994</text></g>
<path d="M352.14,298.20 L353.09,298.20 L354.05,298.20 L355.01,298.20 L355.96,298.20 L356.92,298.20 L357.88,298.20 L358.83,298.20 L359.79,298.20 L360.75,298.20 L361.70,298.20 L362.66,298.20 L363.62,298.20 L364.57,298.20 L365.53,298.20 L366.49,298.20 L367.45,298.20 L368.40,298.20 L369.36,298.20 L370.32,298.20 L371.27,298.20 L372.23,298.20 L373.19,298.20 L374.14,298.20 L375.10,298.20 L376.06,298.20 L377.01,298.20 L377.97,298.20 L378.93,298.20 L379.88,298.20 L380.84,298.20 L381.80,298.20 L382.75,298.20 L383.71,298.20 L384.67,298.20 L385.62,298.20 L386.58,298.20 L387.54,298.20 L388.50,298.20 L389.45,298.20 L390.41,298.20 L391.37,298.20 L392.32,298.20 L393.28,298.20 L394.24,298.20 L395.19,298.20 L396.15,298.20 L397.11,298.20 L398.06,298.20 L399.02,298.20 L399.98,298.20 L400.93,298.20 L401.89,298.20 L402.85,298.20 L403.80,298.20 L404.76,298.20 L405.72,298.20 L406.68,298.20 L407.63,298.20 L408.59,298.20 L409.55,298.20 L410.50,298.20 L411.46,298.20 L412.42,298.20 L413.37,298.20 L414.33,298.20 L415.29,298.20 L416.24,298.20 L417.20,298.20 L418.16,298.20 L419.11,298.20 L420.07,298.20 L421.03,298.20 L421.98,298.20 L422.94,298.20 L423.90,298.20 L424.85,298.20 L425.81,298.20 L426.77,298.20 L427.73,298.20 L428.68,298.20 L429.64,298.20 L430.60,298.20 L431.55,298.20 L432.51,298.20 L433.47,298.20 L434.42,298.20 L435.38,298.20 L436.34,298.20 L437.29,298.20 L438.25,298.20 L439.21,298.20 L440.16,298.20 L441.12,298.20 L442.08,298.20 L443.03,298.20 L443.99,298.20 L444.95,298.20 L445.90,298.20 L446.86,298.20 L447.82,298.20 L448.77,298.20 L449.73,298.20 L450.69,298.20 L451.65,298.20 L452.60,298.20 L453.56,298.20 L454.52,298.20 L455.47,298.20 L456.43,298.20 L457.39,298.20 L458.34,298.20 L459.30,298.20 L460.26,298.20 L461.21,298.20 L462.17,298.20 L463.13,298.20 L464.08,298.20 L465.04,298.20 L466.00,298.20 L466.95,298.20 L467.91,298.20 L468.87,298.20 L469.82,298.20 L470.78,298.20 L471.74,298.20 L472.70,298.20 L473.65,298.20 L474.61,298.20 L475.57,298.20 L476.52,298.20 L477.48,298.20 L478.44,298.20 L479.39,298.20 L480.35,298.20 L481.31,298.20 L482.26,298.20 L483.22,298.20 L484.18,298.20 L485.13,298.20 L486.09,298.20 L487.05,298.20 L488.00,298.20 L488.96,298.20 L489.92,298.20 L490.88,298.20 L491.83,298.20 L492.79,298.20 L493.75,298.20 L494.70,298.20 L495.66,298.20 L496.62,298.20 L497.57,298.20 L498.53,298.20 L499.49,298.20 L500.44,298.20 L501.40,298.20 L502.36,298.20 L503.31,298.20 L504.27,298.20 L505.23,298.20 L506.23,298.20 L507.24,298.20 L508.25,298.20 L509.26,298.20 L510.26,298.20 L511.27,298.20 L512.28,298.20 L513.28,298.20 L514.29,298.20 L515.30,298.20 L516.31,298.20 L517.31,298.20 L518.32,298.20 L519.33,298.20 L520.33,298.20 L521.34,298.20 L522.35,298.20 L523.36,298.20 L524.36,298.20" fill="none" stroke="#6aa3dc" stroke-width="1.2"/>
<circle cx="352.14" cy="298.20" r="1.65" fill="#4a88d4" stroke="#3b78c6" stroke-width="0.5"/>
<circle cx="371.27" cy="298.20" r="1.65" fill="#4a88d4" stroke="#3b78c6" stroke-width="0.5"/>
<circle cx="390.41" cy="298.20" r="1.65" fill="#4a88d4" stroke="#3b78c6" stroke-width="0.5"/>
<circle cx="409.55" cy="298.20" r="1.65" fill="#4a88d4" stroke="#3b78c6" stroke-width="0.5"/>
<circle cx="428.68" cy="298.20" r="1.65" fill="#4a88d4" stroke="#3b78c6" stroke-width="0.5"/>
<circle cx="447.82" cy="298.20" r="1.65" fill="#4a88d4" stroke="#3b78c6" stroke-width="0.5"/>
<circle cx="466.95" cy="298.20" r="1.65" fill="#4a88d4" stroke="#3b78c6" stroke-width="0.5"/>
<circle cx="486.09" cy="298.20" r="1.65" fill="#4a88d4" stroke="#3b78c6" stroke-width="0.5"/>
<circle cx="505.23" cy="298.20" r="1.65" fill="#4a88d4" stroke="#3b78c6" stroke-width="0.5"/>
<circle cx="524.36" cy="298.20" r="1.65" fill="#4a88d4" stroke="#3b78c6" stroke-width="0.5"/>
<text transform="translate(301.3,315.1) rotate(-90)" text-anchor="middle" font-family="Liberation Serif, Times New Roman, serif" font-size="8.9" fill="#222" stroke="#222" stroke-width="0.2">Computation Energy Consumption /J</text>
<text x="438.6" y="422.5" text-anchor="middle" font-family="Liberation Serif, Times New Roman, serif" font-size="9.4" fill="#222" stroke="#222" stroke-width="0.1">&#946;</text>
<text x="441.0" y="441.8" text-anchor="middle" font-family="Liberation Serif, Times New Roman, serif" font-size="12.2" fill="#111" stroke="#111" stroke-width="0.12">(d)</text></svg>
</body></html>
